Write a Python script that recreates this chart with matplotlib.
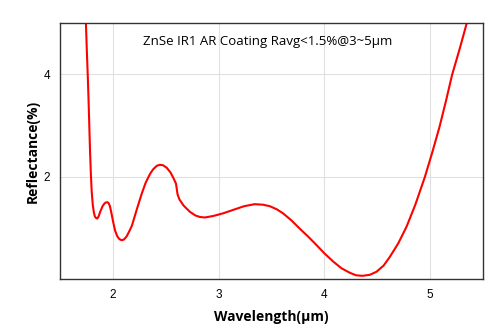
import matplotlib
matplotlib.use("Agg")
import matplotlib.pyplot as plt

# reflectance curve (wavelength in um, R in %)
wavelength = [1.745, 1.753, 1.762, 1.770, 1.777, 1.784, 1.792, 1.800, 1.810, 1.820,
              1.830, 1.841, 1.853, 1.865, 1.880, 1.900, 1.915, 1.930, 1.947, 1.960,
              1.972, 1.982, 2.000, 2.020, 2.040, 2.060, 2.083, 2.105, 2.130, 2.155,
              2.180, 2.225, 2.272, 2.310, 2.351, 2.380, 2.415, 2.445, 2.475, 2.510,
              2.545, 2.575, 2.597, 2.604, 2.612, 2.630, 2.670, 2.729, 2.780, 2.823,
              2.870, 2.950, 3.040, 3.140, 3.240, 3.340, 3.420, 3.485, 3.550, 3.610,
              3.690, 3.768, 3.850, 3.926, 4.000, 4.083, 4.160, 4.240, 4.300, 4.361,
              4.430, 4.493, 4.560, 4.619, 4.700, 4.777, 4.860, 4.950, 5.020, 5.090,
              5.150, 5.208, 5.280, 5.344]
reflectance = [5.00, 4.50, 4.00, 3.50, 3.00, 2.50, 2.05, 1.70, 1.45, 1.30,
               1.22, 1.19, 1.18, 1.22, 1.31, 1.41, 1.46, 1.49, 1.50, 1.48,
               1.42, 1.33, 1.14, 0.95, 0.84, 0.78, 0.755, 0.77, 0.83, 0.93,
               1.04, 1.35, 1.66, 1.88, 2.05, 2.14, 2.21, 2.23, 2.22, 2.17,
               2.08, 1.96, 1.86, 1.76, 1.65, 1.55, 1.43, 1.31, 1.24, 1.21,
               1.20, 1.23, 1.28, 1.35, 1.42, 1.46, 1.45, 1.42, 1.36, 1.28,
               1.14, 0.98, 0.82, 0.66, 0.50, 0.34, 0.21, 0.12, 0.07, 0.06,
               0.08, 0.14, 0.26, 0.43, 0.70, 1.02, 1.45, 1.99, 2.47, 2.98,
               3.48, 3.99, 4.50, 4.98]

x_ticks = [2, 3, 4, 5]
y_ticks = [2, 4]

fig = plt.figure(figsize=(5, 3.34), dpi=100)
ax = fig.add_axes([0.12, 0.165, 0.846, 0.766])

ax.plot(wavelength, reflectance, color="red", lw=1.5, clip_on=True)

ax.set_xlim(1.5, 5.5)
ax.set_ylim(0, 5)
ax.set_xticks(x_ticks)
ax.set_yticks(y_ticks)
ax.grid(True, color="#e0e0e0", lw=0.8)
ax.set_axisbelow(True)
ax.tick_params(length=0, labelsize=8.5, pad=7)
for lbl in ax.get_xticklabels() + ax.get_yticklabels():
    lbl.set_family("Liberation Sans")
for sp in ax.spines.values():
    sp.set_color("#333333")
    sp.set_linewidth(1.0)

ax.set_xlabel("Wavelength(μm)", fontsize=10, fontweight="bold", family="Open Sans", labelpad=7)
ax.set_ylabel("Reflectance(%)", fontsize=10, fontweight="bold", family="Open Sans", labelpad=3)
ax.text(0.49, 0.955, "ZnSe IR1 AR Coating Ravg<1.5%@3~5μm", transform=ax.transAxes,
        ha="center", va="top", fontsize=9.5, family="Open Sans")

fig.savefig("out.png", dpi=100)
